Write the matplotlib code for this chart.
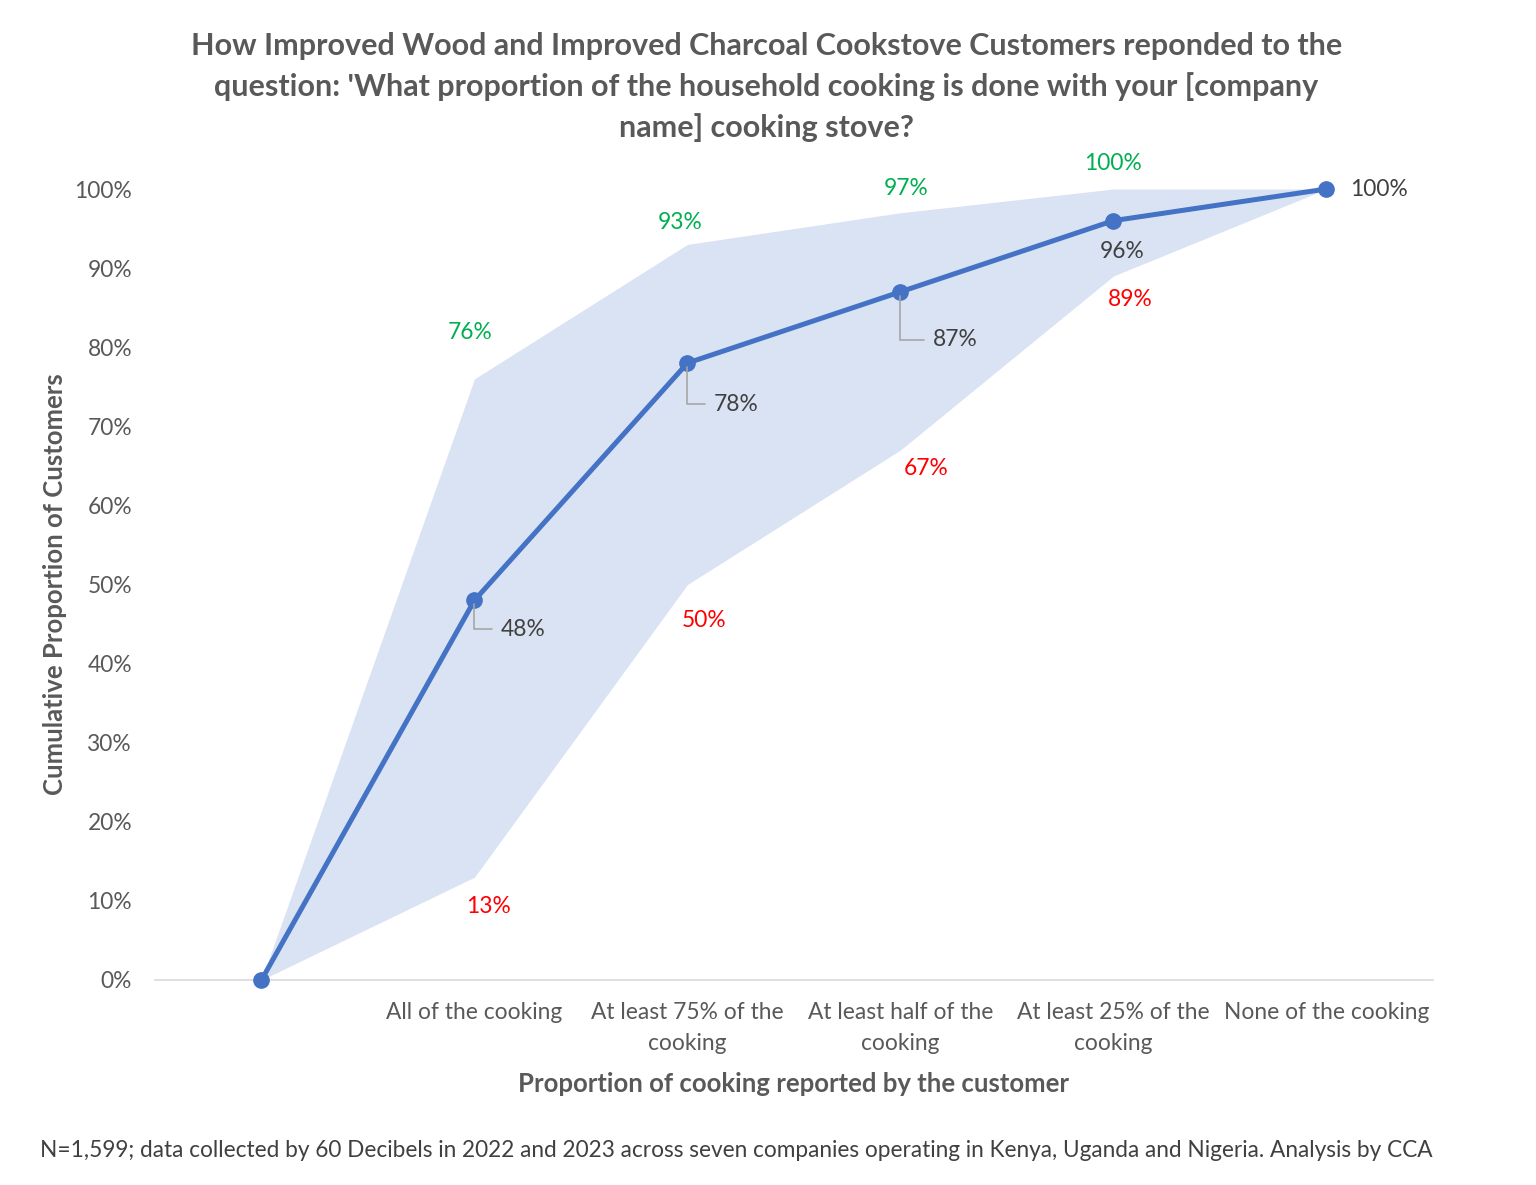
import matplotlib
matplotlib.use("Agg")
import matplotlib.pyplot as plt
from matplotlib.ticker import PercentFormatter

plt.rcParams["font.family"] = ["Lato", "DejaVu Sans"]

# categories on the x axis (first point is the origin, no label)
categories = ["", "All of the cooking", "At least 75% of the\ncooking",
              "At least half of the\ncooking", "At least 25% of the\ncooking",
              "None of the cooking"]
average = [0.0, 0.48, 0.78, 0.87, 0.96, 1.00]
upper = [0.0, 0.76, 0.93, 0.97, 1.00, 1.00]
lower = [0.0, 0.13, 0.50, 0.67, 0.89, 1.00]

BLUE = "#4472C4"
BAND = "#DAE3F3"
GREY = "#595959"
DARK = "#404040"
GREEN = "#00B050"
RED = "#FF0000"
FS = 16.4
PX = 0.72  # pixels -> points

fig = plt.figure(figsize=(15.36, 11.85), dpi=100)
ax = fig.add_axes([0.1009, 0.1730, 0.8320, 0.6675])

x = list(range(len(categories)))
ax.fill_between(x, lower, upper, color=BAND, linewidth=0, zorder=1)
ax.plot(x, average, color=BLUE, lw=3.6, marker="o", ms=11,
        zorder=3, clip_on=False)

ax.set_xlim(-0.5, 5.5)
ax.set_ylim(0, 1)
ax.set_xticks(x)
ax.set_xticklabels(categories, fontsize=FS, color=GREY, linespacing=1.55)
ax.set_yticks([i / 10 for i in range(11)])
ax.yaxis.set_major_formatter(PercentFormatter(1.0, decimals=0))
ax.tick_params(axis="both", length=0, labelsize=FS, labelcolor=GREY)
ax.tick_params(axis="x", pad=16)
ax.tick_params(axis="y", pad=16.5)
for side in ["top", "right", "left"]:
    ax.spines[side].set_visible(False)
ax.spines["bottom"].set_color("#D9D9D9")
ax.spines["bottom"].set_linewidth(1.2)

# upper range labels (green)
up_off = [None, (-4, 46), (-7, 22), (6, 24), (0, 26), None]
for i in range(1, 5):
    dx, dy = up_off[i]
    ax.annotate(f"{upper[i]:.0%}", (x[i], upper[i]), xytext=(dx * PX, dy * PX),
                textcoords="offset points", ha="center", va="center",
                color=GREEN, fontsize=FS, zorder=5)

# lower range labels (red)
lo_off = [None, (14, -29), (17, -36), (26, -18), (17, -23), None]
for i in range(1, 5):
    dx, dy = lo_off[i]
    ax.annotate(f"{lower[i]:.0%}", (x[i], lower[i]), xytext=(dx * PX, dy * PX),
                textcoords="offset points", ha="center", va="center",
                color=RED, fontsize=FS, zorder=5)

# average labels, some with leader lines
avg_off = [None, (26, -29), (26, -41), (32, -48)]
for i in (1, 2, 3):
    dx, dy = avg_off[i]
    ax.annotate(f"{average[i]:.0%}", (x[i], average[i]), xytext=(dx * PX, dy * PX),
                textcoords="offset points", ha="left", va="center",
                color=DARK, fontsize=FS, zorder=5,
                arrowprops=dict(arrowstyle="-", color="#A6A6A6", lw=1.2,
                                relpos=(0, 0.5), shrinkA=4, shrinkB=3,
                                connectionstyle="angle,angleA=0,angleB=90,rad=0"))
ax.annotate(f"{average[4]:.0%}", (x[4], average[4]), xytext=(6, -22),
            textcoords="offset points", ha="center", va="center",
            color=DARK, fontsize=FS, zorder=5)
ax.annotate(f"{average[5]:.0%}", (x[5], average[5]), xytext=(17, 0),
            textcoords="offset points", ha="left", va="center",
            color=DARK, fontsize=FS, zorder=5)

ax.set_xlabel("Proportion of cooking reported by the customer", fontsize=18.5,
              fontweight="bold", color=GREY, labelpad=13)
ax.set_ylabel("Cumulative Proportion of Customers", fontsize=18.5,
              fontweight="bold", color=GREY, labelpad=5)

fig.text(0.499, 0.973, "How Improved Wood and Improved Charcoal Cookstove Customers reponded to the\n"
         "question: 'What proportion of the household cooking is done with your [company\n"
         "name] cooking stove?", ha="center", va="top", fontsize=22,
         fontweight="bold", color=GREY, linespacing=1.5)

fig.text(0.026, 0.029, "N=1,599; data collected by 60 Decibels in 2022 and 2023 across seven "
         "companies operating in Kenya, Uganda and Nigeria. Analysis by CCA",
         ha="left", va="center", fontsize=16.3, color=DARK)

fig.savefig("out.png", dpi=100)
